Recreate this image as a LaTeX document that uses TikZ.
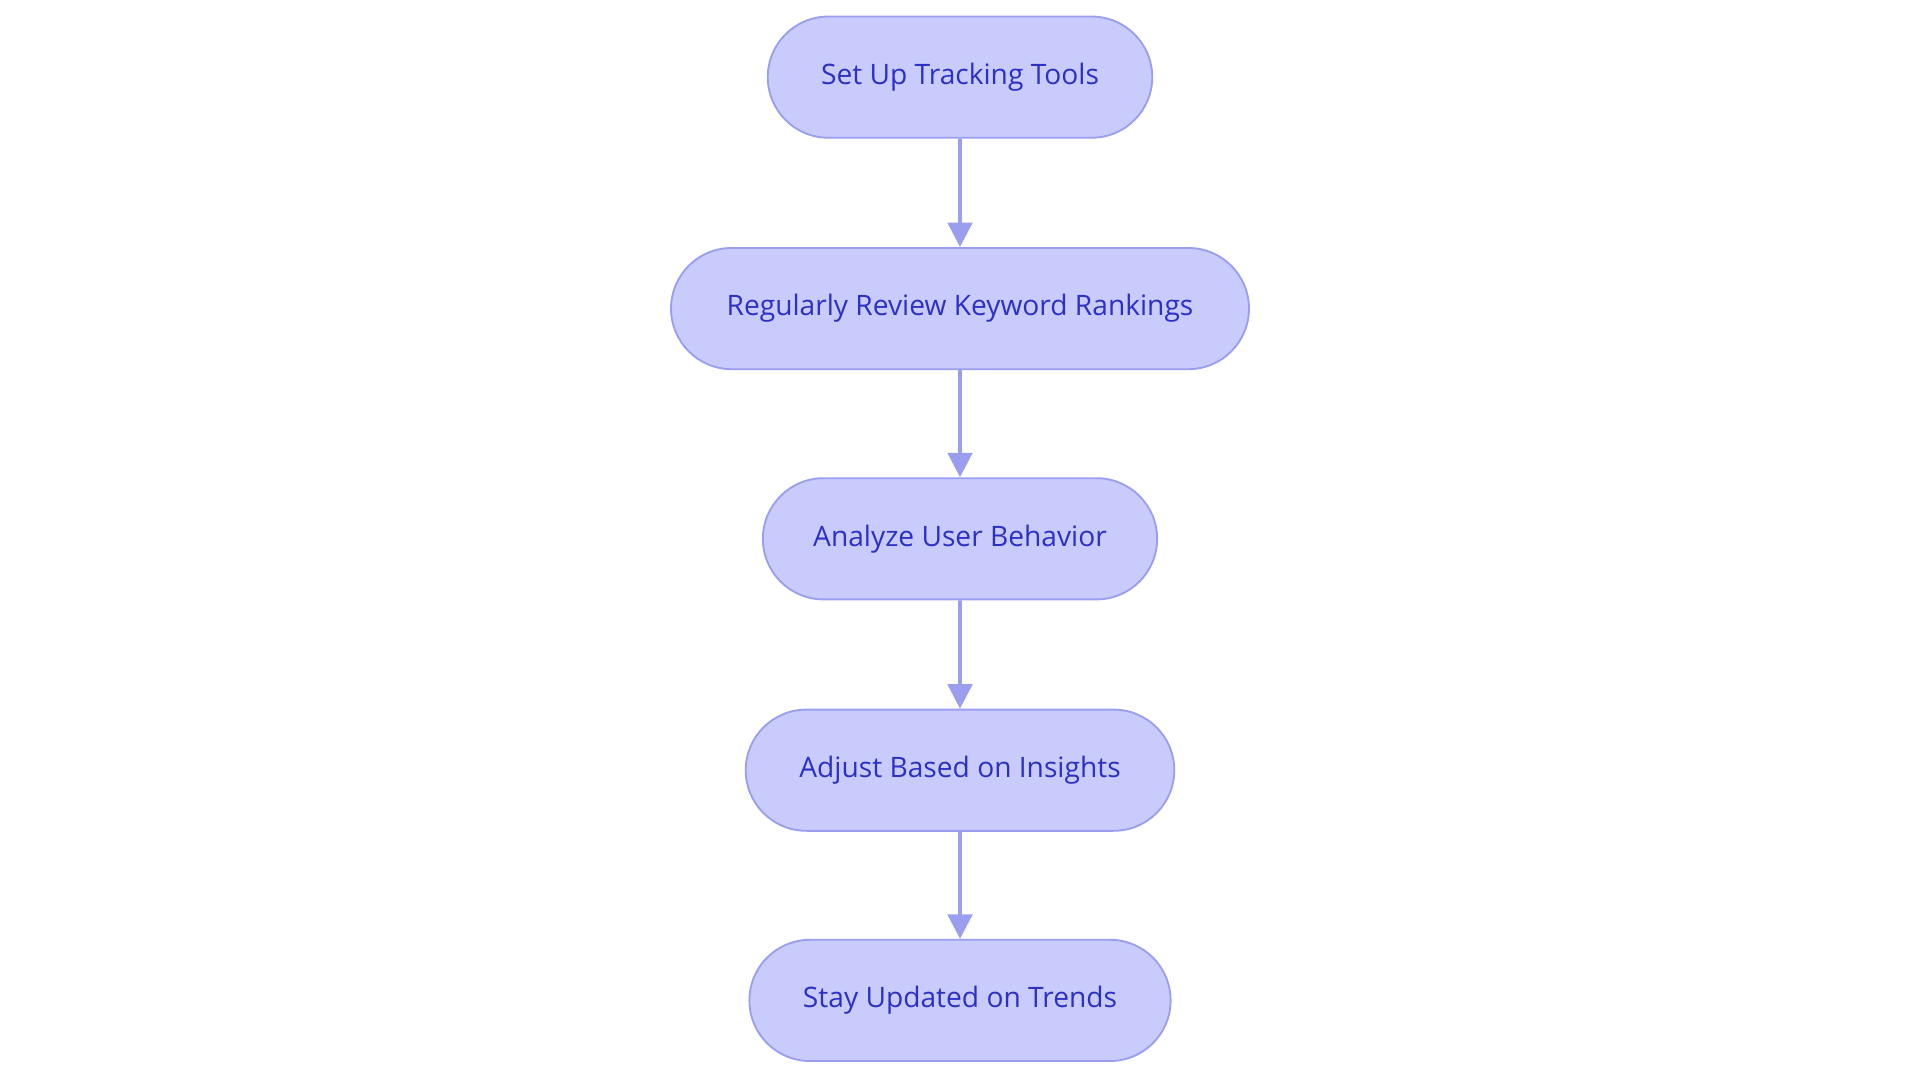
\documentclass[tikz,border=0pt]{standalone}
\usepackage{fontspec}
\setmainfont{Open Sans}
\usetikzlibrary{shapes.misc,arrows.meta}
\definecolor{nfill}{HTML}{C9CBFC}
\definecolor{nline}{HTML}{9A9EEE}
\definecolor{ntext}{HTML}{2C30C4}
\begin{document}
\begin{tikzpicture}[x=1pt,y=-1pt,
  box/.style={rounded rectangle, draw=nline, line width=1.5pt, fill=nfill, text=ntext,
    minimum height=99pt, inner sep=0pt, font=\fontsize{23}{28}\selectfont},
  arr/.style={draw=nline, line width=3pt, -{Triangle[length=20pt,width=20pt]}}]
\useasboundingbox (0,0) rectangle (1568,884);
\node[box, minimum width=314pt] (a) at (784,63) {Set Up Tracking Tools};
\node[box, minimum width=472pt] (b) at (784,252) {Regularly Review Keyword Rankings};
\node[box, minimum width=322pt] (c) at (784,440) {Analyze User Behavior};
\node[box, minimum width=350pt] (d) at (784,629) {Adjust Based on Insights};
\node[box, minimum width=344pt] (e) at (784,817) {Stay Updated on Trends};
\draw[arr] (a) -- (b);
\draw[arr] (b) -- (c);
\draw[arr] (c) -- (d);
\draw[arr] (d) -- (e);
\end{tikzpicture}
\end{document}
